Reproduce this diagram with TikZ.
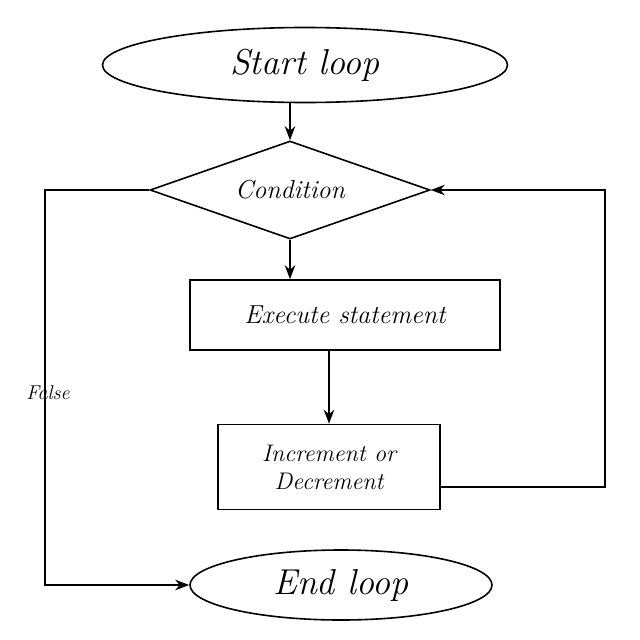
\documentclass[tikz,border=0pt]{standalone}
\usepackage{fontspec}
\usetikzlibrary{shapes.geometric,arrows.meta}
\begin{document}
\begin{tikzpicture}[x=1pt,y=-1pt,line width=1.6pt,
  nd/.style={draw,line width=1.6pt,font=\fontsize{26}{30}\selectfont\itshape},
  big/.style={nd,font=\fontsize{36}{40}\selectfont\itshape},
  arr/.style={line width=1.6pt,-{Stealth[length=14pt]}}]
\useasboundingbox (0,0) rectangle (640,640);
\node[big,ellipse,minimum width=405pt,minimum height=75pt,inner sep=0pt] (s) at (305,65) {Start loop};
\node[nd,diamond,aspect=2.85,minimum width=280pt,minimum height=98pt,inner sep=0pt] (c) at (290,190) {Condition};
\node[nd,rectangle,minimum width=310pt,minimum height=70pt] (e) at (345,315) {Execute statement};
\node[nd,rectangle,minimum width=222pt,minimum height=85pt,align=center,font=\fontsize{24}{28}\selectfont\itshape] (i) at (329,467) {Increment or\\Decrement};
\node[big,ellipse,minimum width=302pt,minimum height=70pt,inner sep=0pt] (t) at (341,585) {End loop};
\coordinate (s1) at (290,103);
\draw[arr] (s1) -- (c.north);
\draw[arr] (c.south) -- (c.south|-e.north);
\draw[arr] (e.south-|i.north) -- (i.north);
\coordinate (r1) at (605,487);
\coordinate (r2) at (605,190);
\draw[arr] (i.east|-r1) -- (r1) -- (r2) -- (c.east);
\coordinate (l1) at (45,190);
\coordinate (l2) at (45,585);
\draw[arr] (c.west) -- (l1) -- (l2) -- (t.west);
\node[font=\fontsize{20}{24}\selectfont\itshape] (f) at (48,393) {False};
\end{tikzpicture}
\end{document}
